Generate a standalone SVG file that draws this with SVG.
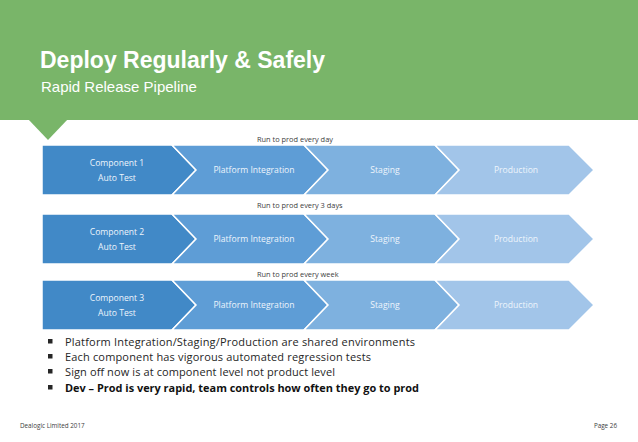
<svg xmlns="http://www.w3.org/2000/svg" width="638" height="442" viewBox="0 0 638 442">
<style>
.hdr{fill:#79b569}
.c1{fill:#4189c7;stroke:#fff;stroke-width:1.5}
.c2{fill:#5e9dd6;stroke:#fff;stroke-width:1.5}
.c3{fill:#7eb1df;stroke:#fff;stroke-width:1.5}
.c4{fill:#a2c5e9;stroke:#fff;stroke-width:1.5}
.ct{font-family:"Open Sans","DejaVu Sans",sans-serif;font-size:8.6px;fill:#eef5fc;text-anchor:middle}
.run{font-family:"Open Sans","DejaVu Sans",sans-serif;font-size:7.4px;fill:#404040}
.bl{font-family:"Open Sans","DejaVu Sans",sans-serif;font-size:11px;fill:#262626}
.bb{font-weight:bold;fill:#111}
.ft{font-family:"Open Sans","DejaVu Sans",sans-serif;font-size:6.3px;fill:#404040}
.sq{fill:#262626}
</style>
<rect class="hdr" x="0" y="0" width="638" height="120"/>
<polygon class="hdr" points="28,119 68,119 48,140"/>
<text x="40" y="68" font-family="'Liberation Sans',Arial,sans-serif" font-size="23" font-weight="bold" fill="#fff">Deploy Regularly &amp; Safely</text>
<text x="41" y="92" font-family="'Liberation Sans',Arial,sans-serif" font-size="15" fill="#fff">Rapid Release Pipeline</text>

<g id="row1">
<text class="run" x="257" y="142">Run to prod every day</text>
<g id="r1-component"><polygon class="c1" points="42,145 172,145 196,170 172,195 42,195"/><text class="ct" x="117" y="166">Component 1</text><text class="ct" x="117" y="181">Auto Test</text></g>
<g id="r1-platform"><polygon class="c2" points="172,145 304,145 328,170 304,195 172,195 196,170"/><text class="ct" x="254" y="173">Platform Integration</text></g>
<g id="r1-staging"><polygon class="c3" points="304,145 435,145 459,170 435,195 304,195 328,170"/><text class="ct" x="385" y="173">Staging</text></g>
<g id="r1-production"><polygon class="c4" points="435,145 569,145 594,170 569,195 435,195 459,170"/><text class="ct" x="516" y="173">Production</text></g>
</g>

<g id="row2">
<text class="run" x="257" y="208">Run to prod every 3 days</text>
<g id="r2-component"><polygon class="c1" points="42,214 172,214 196,239 172,264 42,264"/><text class="ct" x="117" y="235">Component 2</text><text class="ct" x="117" y="250">Auto Test</text></g>
<g id="r2-platform"><polygon class="c2" points="172,214 304,214 328,239 304,264 172,264 196,239"/><text class="ct" x="254" y="242">Platform Integration</text></g>
<g id="r2-staging"><polygon class="c3" points="304,214 435,214 459,239 435,264 304,264 328,239"/><text class="ct" x="385" y="242">Staging</text></g>
<g id="r2-production"><polygon class="c4" points="435,214 569,214 594,239 569,264 435,264 459,239"/><text class="ct" x="516" y="242">Production</text></g>
</g>

<g id="row3">
<text class="run" x="257" y="277">Run to prod every week</text>
<g id="r3-component"><polygon class="c1" points="42,280 172,280 196,305 172,330 42,330"/><text class="ct" x="117" y="301">Component 3</text><text class="ct" x="117" y="316">Auto Test</text></g>
<g id="r3-platform"><polygon class="c2" points="172,280 304,280 328,305 304,330 172,330 196,305"/><text class="ct" x="254" y="308">Platform Integration</text></g>
<g id="r3-staging"><polygon class="c3" points="304,280 435,280 459,305 435,330 304,330 328,305"/><text class="ct" x="385" y="308">Staging</text></g>
<g id="r3-production"><polygon class="c4" points="435,280 569,280 594,305 569,330 435,330 459,305"/><text class="ct" x="516" y="308">Production</text></g>
</g>

<g id="bullets">
<rect class="sq" x="48" y="339" width="4.5" height="4.5"/>
<text class="bl" x="65" y="346" textLength="350" lengthAdjust="spacing">Platform Integration/Staging/Production are shared environments</text>
<rect class="sq" x="48" y="354" width="4.5" height="4.5"/>
<text class="bl" x="65" y="361" textLength="306" lengthAdjust="spacing">Each component has vigorous automated regression tests</text>
<rect class="sq" x="48" y="369" width="4.5" height="4.5"/>
<text class="bl" x="65" y="376" textLength="270" lengthAdjust="spacing">Sign off now is at component level not product level</text>
<rect class="sq" x="48" y="385" width="4.5" height="4.5"/>
<text class="bl bb" x="65" y="392" textLength="354" lengthAdjust="spacingAndGlyphs">Dev – Prod is very rapid, team controls how often they go to prod</text>
</g>

<text class="ft" x="20" y="428">Dealogic Limited 2017</text>
<text class="ft" x="617" y="428" text-anchor="end">Page 26</text>
</svg>
